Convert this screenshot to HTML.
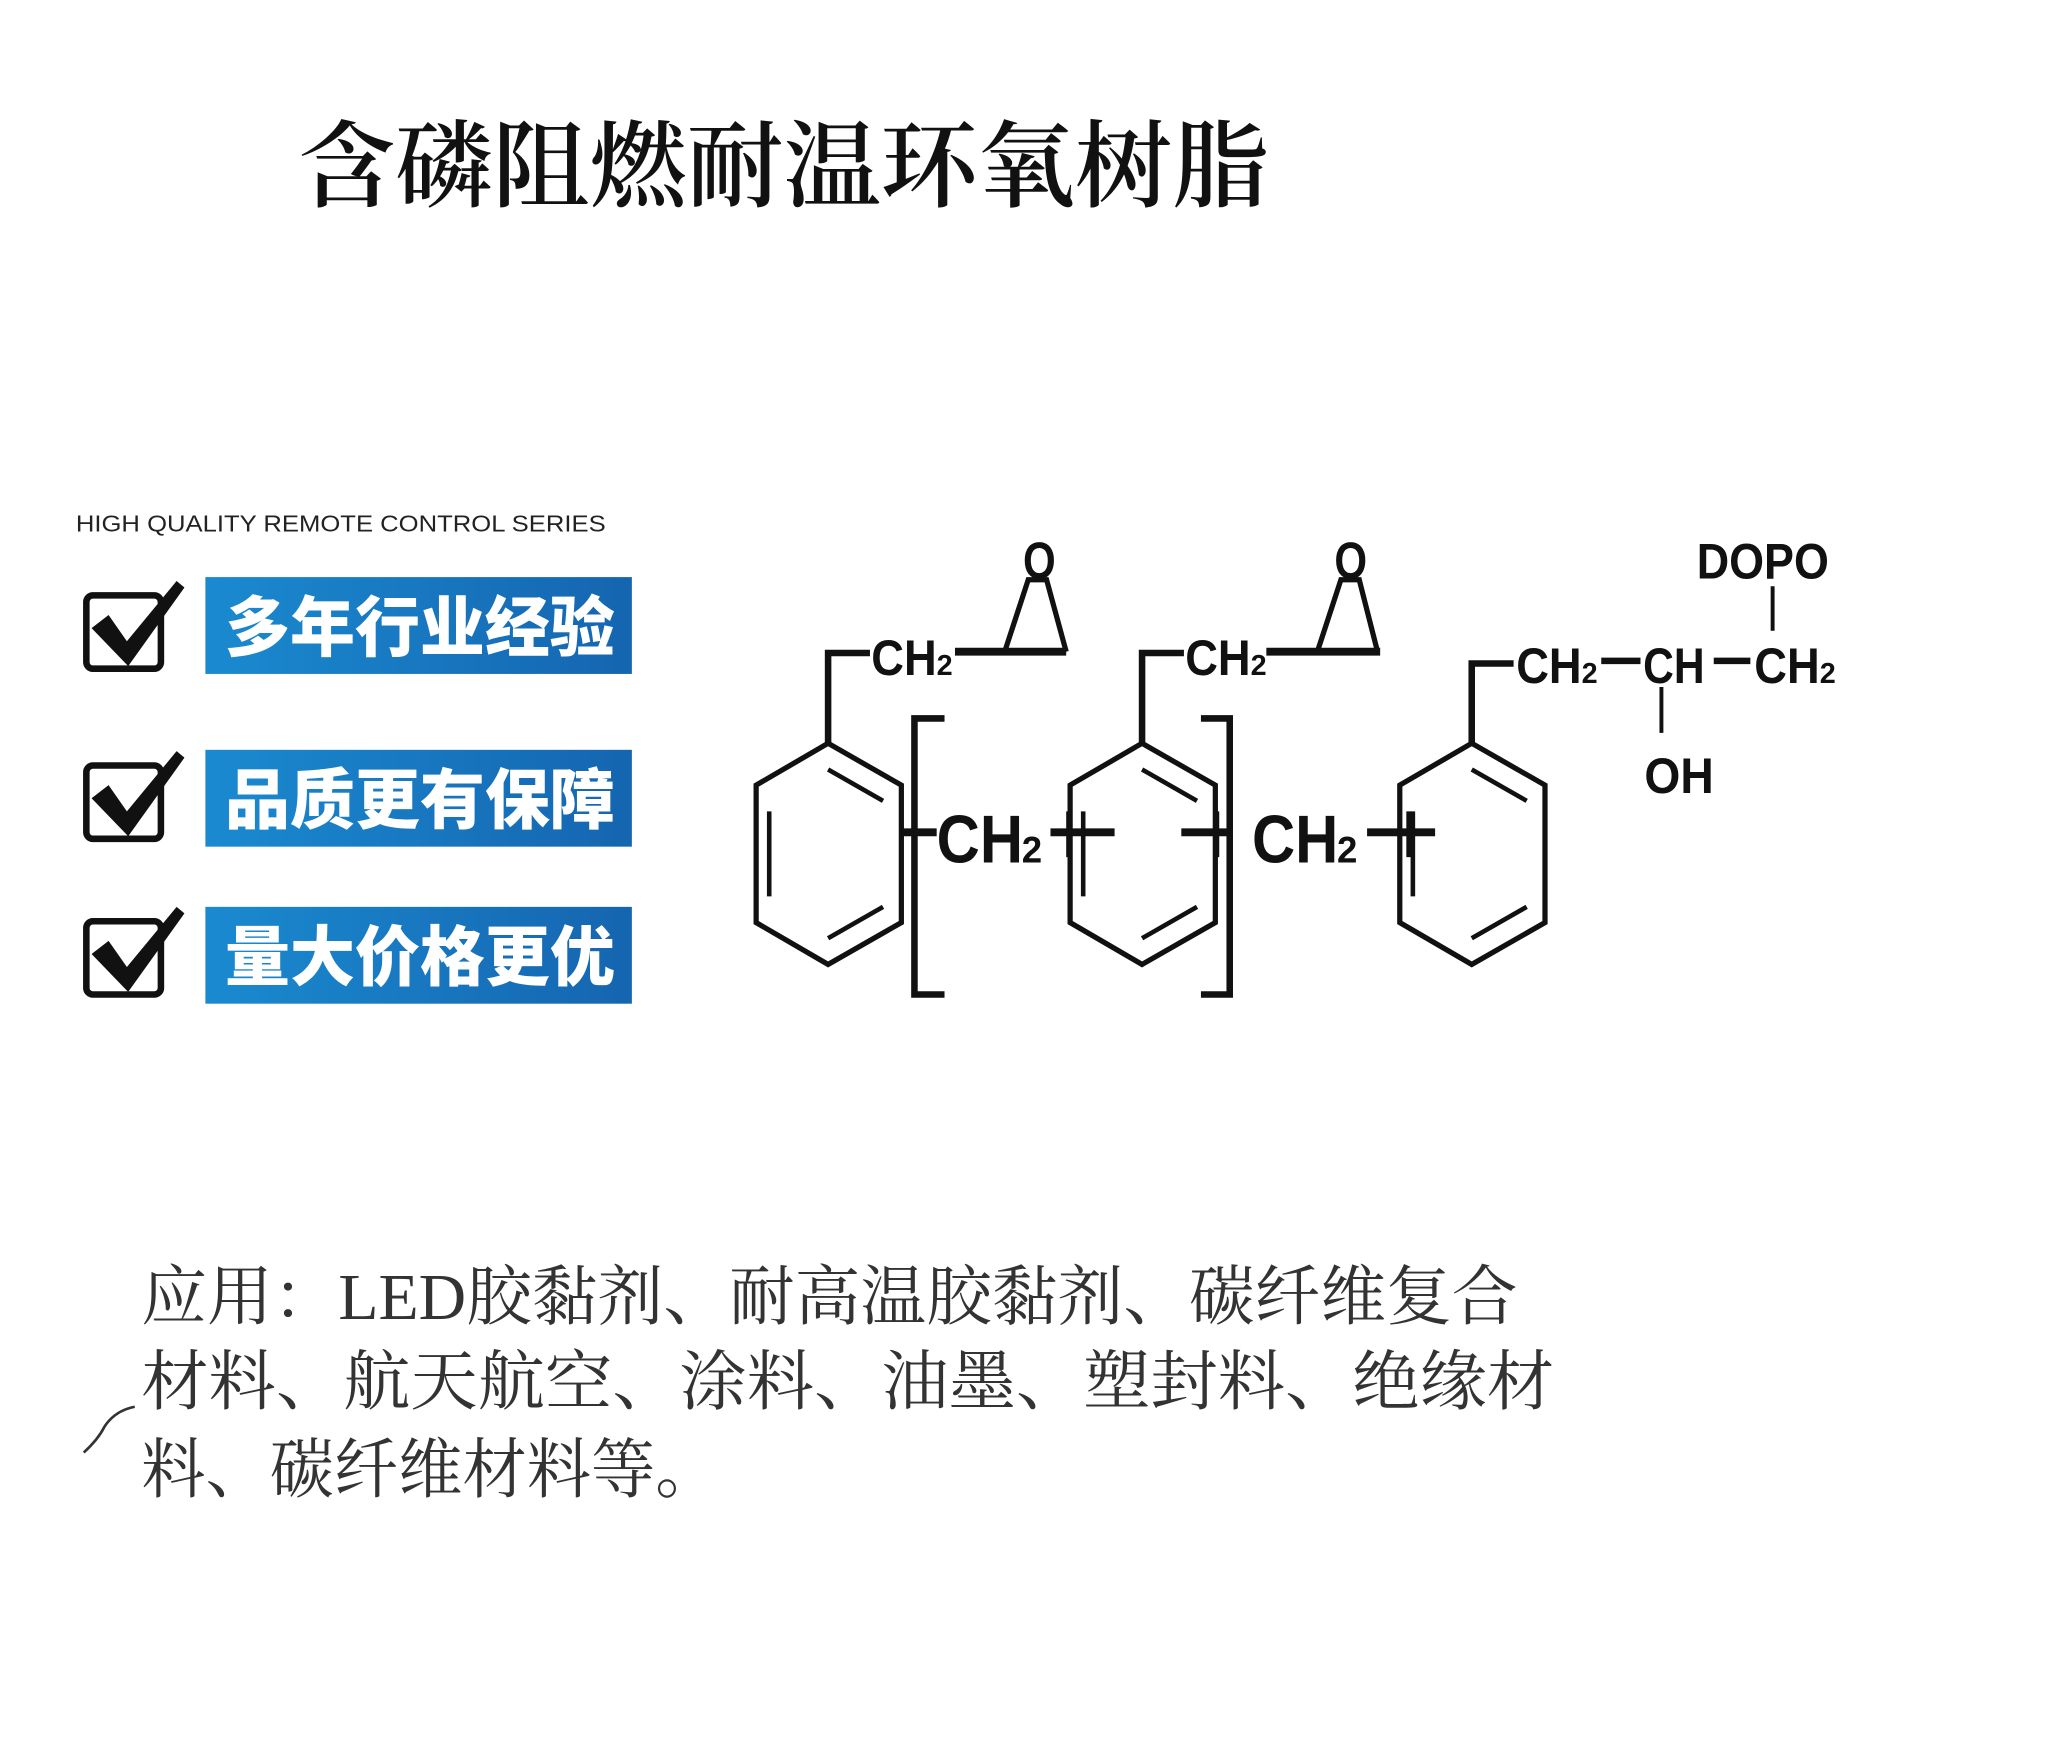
<!DOCTYPE html>
<html><head><meta charset="utf-8"><style>
html,body{margin:0;padding:0;background:#fff;}
svg{display:block;}
</style></head><body>
<svg width="2048" height="1753" viewBox="0 0 1565.5 1339.6" preserveAspectRatio="none" xmlns="http://www.w3.org/2000/svg">
<rect width="1600" height="1400" fill="#fff"/>
<defs>
<linearGradient id="bg" x1="0" y1="0" x2="1" y2="0">
<stop offset="0" stop-color="#1a8ad0"/><stop offset="1" stop-color="#1565b0"/>
</linearGradient>
</defs>
<text x="228" y="152" font-family="Noto Serif CJK SC, serif" font-weight="600" font-size="72" textLength="742" lengthAdjust="spacingAndGlyphs" fill="#111">含磷阻燃耐温环氧树脂</text>

<text x="58" y="406" font-family="Liberation Sans, sans-serif" font-size="18" textLength="405" lengthAdjust="spacingAndGlyphs" fill="#222">HIGH QUALITY REMOTE CONTROL SERIES</text>

<g fill="none" stroke="#111" stroke-width="5" stroke-linejoin="round">
<rect x="66" y="455" width="57" height="56" rx="5"/>
<rect x="66" y="585" width="57" height="56" rx="5"/>
<rect x="66" y="704" width="57" height="56" rx="5"/>
</g>
<g fill="#111">
<path d="M70 480 L83 470 L97 490 L135 444 L141 449 L98 509 Z"/>
<path d="M70 610 L83 600 L97 620 L135 574 L141 579 L98 639 Z"/>
<path d="M70 729 L83 719 L97 739 L135 693 L141 698 L98 758 Z"/>
</g>
<rect x="157" y="441" width="326" height="74" fill="url(#bg)"/>
<rect x="157" y="573" width="326" height="74" fill="url(#bg)"/>
<rect x="157" y="693" width="326" height="74" fill="url(#bg)"/>
<g font-family="Noto Sans CJK SC, sans-serif" font-weight="900" font-size="50" fill="#fff">
<text x="172" y="497" textLength="298" lengthAdjust="spacingAndGlyphs">多年行业经验</text>
<text x="172" y="629" textLength="298" lengthAdjust="spacingAndGlyphs">品质更有保障</text>
<text x="172" y="749" textLength="298" lengthAdjust="spacingAndGlyphs">量大价格更优</text>
</g>

<g fill="none" stroke="#111" stroke-width="4" stroke-linejoin="miter">
<polygon points="633,568 689,600 689,705 633,737 578,705 578,600"/>
<polygon points="873,568 929,600 929,705 873,737 818,705 818,600"/>
<polygon points="1125,568 1181,600 1181,705 1125,737 1070,705 1070,600"/>
<g stroke-width="3.5">
<line x1="633" y1="588" x2="675" y2="612"/><line x1="588" y1="620" x2="588" y2="685"/><line x1="633" y1="717" x2="675" y2="693"/>
<line x1="873" y1="588" x2="915" y2="612"/><line x1="828" y1="620" x2="828" y2="685"/><line x1="873" y1="717" x2="915" y2="693"/>
<line x1="1125" y1="588" x2="1167" y2="612"/><line x1="1080" y1="620" x2="1080" y2="685"/><line x1="1125" y1="717" x2="1167" y2="693"/>
</g>
<polyline points="633,568 633,499 665,499" stroke-width="5"/>
<polyline points="873,568 873,499 905,499" stroke-width="5"/>
<polyline points="1125,568 1125,507 1157,507" stroke-width="5"/>
<line x1="730" y1="498" x2="815" y2="498" stroke-width="6"/>
<polyline points="768,498 786,443 800,443 815,498"/>
<line x1="968" y1="498" x2="1055" y2="498" stroke-width="6"/>
<polyline points="1007,498 1025,443 1039,443 1053,498"/>
<line x1="1224" y1="505" x2="1254" y2="505" stroke-width="5"/>
<line x1="1310" y1="505" x2="1338" y2="505" stroke-width="5"/>
<line x1="1355" y1="448" x2="1355" y2="482" stroke-width="3"/>
<line x1="1270" y1="525" x2="1270" y2="560" stroke-width="3"/>
<polyline points="722,549 699,549 699,760 722,760" stroke-width="5"/>
<polyline points="918,549 940,549 940,760 918,760" stroke-width="5"/>
<g stroke-width="6">
<line x1="689" y1="636" x2="716" y2="636"/>
<line x1="803" y1="636" x2="852" y2="636"/>
<line x1="903" y1="636" x2="940" y2="636"/>
<line x1="1045" y1="636" x2="1097" y2="636"/>
</g>
<g stroke-width="4">
<line x1="817" y1="620" x2="817" y2="655"/>
<line x1="930" y1="620" x2="930" y2="655"/>
<line x1="1077" y1="620" x2="1077" y2="655"/>
</g>
</g>
<g font-family="Liberation Sans, sans-serif" font-weight="bold" fill="#111">
<text x="666" y="516" font-size="38" textLength="50" lengthAdjust="spacingAndGlyphs">CH</text><text x="716" y="516" font-size="22">2</text>
<text x="906" y="516" font-size="38" textLength="50" lengthAdjust="spacingAndGlyphs">CH</text><text x="956" y="516" font-size="22">2</text>
<text x="1159" y="522" font-size="38" textLength="50" lengthAdjust="spacingAndGlyphs">CH</text><text x="1209" y="522" font-size="22">2</text>
<text x="1256" y="522" font-size="38" textLength="47" lengthAdjust="spacingAndGlyphs">CH</text>
<text x="1341" y="522" font-size="38" textLength="50" lengthAdjust="spacingAndGlyphs">CH</text><text x="1391" y="522" font-size="22">2</text>
<text x="1297" y="442" font-size="38" textLength="101" lengthAdjust="spacingAndGlyphs">DOPO</text>
<text x="1257" y="606" font-size="38" textLength="53" lengthAdjust="spacingAndGlyphs">OH</text>
<text x="782" y="442" font-size="40" textLength="25" lengthAdjust="spacingAndGlyphs">O</text>
<text x="1020" y="442" font-size="40" textLength="25" lengthAdjust="spacingAndGlyphs">O</text>
<text x="716" y="659" font-size="52" textLength="66" lengthAdjust="spacingAndGlyphs">CH</text><text x="781" y="659" font-size="28">2</text>
<text x="957" y="659" font-size="52" textLength="66" lengthAdjust="spacingAndGlyphs">CH</text><text x="1022" y="659" font-size="28">2</text>
</g>

<g font-family="Liberation Serif, Noto Serif CJK SC, serif" font-size="50" fill="#333">
<text x="108" y="1008" textLength="1052" lengthAdjust="spacingAndGlyphs">应用：LED胶黏剂、耐高温胶黏剂、碳纤维复合</text>
<text x="108" y="1073" textLength="1080" lengthAdjust="spacingAndGlyphs">材料、航天航空、涂料、油墨、塑封料、绝缘材</text>
<text x="108" y="1140" textLength="442" lengthAdjust="spacingAndGlyphs">料、碳纤维材料等。</text>
</g>
<path d="M64 1110 Q75 1100 80 1090 Q88 1078 103 1075" fill="none" stroke="#333" stroke-width="2"/>
</svg>
</body></html>
